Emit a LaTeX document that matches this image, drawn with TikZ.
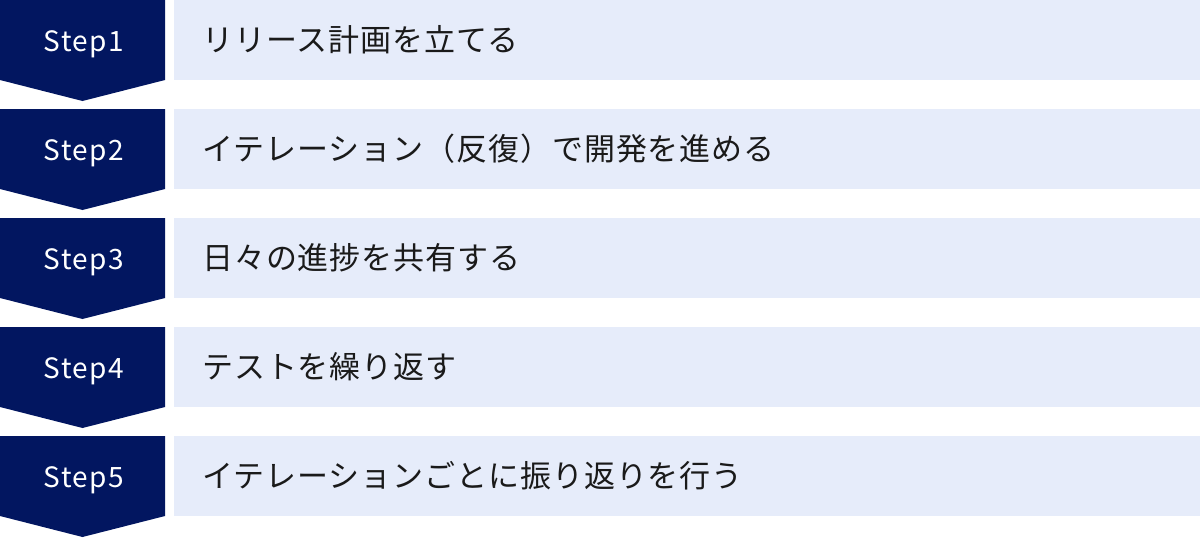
\documentclass[tikz,border=0pt]{standalone}
\usepackage{fontspec}
\setmainfont{Noto Sans CJK JP}
\newfontfamily\stepfont[LetterSpace=5]{Noto Sans CJK JP}
\newfontfamily\taskfont[LetterSpace=3]{Noto Sans CJK JP}
\usepackage{tikz}
\usetikzlibrary{positioning}

\definecolor{stepnavy}{RGB}{2,22,96}
\definecolor{barblue}{RGB}{230,236,250}
\definecolor{textdark}{RGB}{26,26,26}

\begin{document}
\begin{tikzpicture}[x=1pt,y=-1pt,
    bar/.style={draw=none,fill=barblue,minimum width=1026pt,minimum height=80pt,inner sep=0pt},
    steplabel/.style={text=white,anchor=base,inner sep=0pt,font=\stepfont\fontsize{28}{28}\selectfont},
    task/.style={text=textdark,anchor=west,inner sep=0pt,font=\taskfont\fontsize{31}{31}\selectfont}]

  \useasboundingbox (0,0) rectangle (1200,538);

  % Step arrows (navy, pointing down)
  \fill[stepnavy] (0,0) -- (165,0) -- (165,80) -- (82.5,101) -- (0,80) -- cycle;
  \fill[stepnavy] (0,109) -- (165,109) -- (165,189) -- (82.5,210) -- (0,189) -- cycle;
  \fill[stepnavy] (0,218) -- (165,218) -- (165,298) -- (82.5,319) -- (0,298) -- cycle;
  \fill[stepnavy] (0,327) -- (165,327) -- (165,407) -- (82.5,428) -- (0,407) -- cycle;
  \fill[stepnavy] (0,436) -- (165,436) -- (165,516) -- (82.5,537) -- (0,516) -- cycle;

  % Step labels (on the baseline)
  \node[steplabel] (s1) at (84,51.5) {Step1};
  \node[steplabel] (s2) at (84,160.5) {Step2};
  \node[steplabel] (s3) at (84,269.5) {Step3};
  \node[steplabel] (s4) at (84,378.5) {Step4};
  \node[steplabel] (s5) at (84,487.5) {Step5};

  % Bars behind the tasks
  \node[bar] (b1) at (687,40) {};
  \node[bar] (b2) at (687,149) {};
  \node[bar] (b3) at (687,258) {};
  \node[bar] (b4) at (687,367) {};
  \node[bar] (b5) at (687,476) {};

  % Tasks
  \node[task] (t1) at (202,40) {リリース計画を立てる};
  \node[task] (t2) at (202,149) {イテレーション（反復）で開発を進める};
  \node[task] (t3) at (202,258) {日々の進捗を共有する};
  \node[task] (t4) at (202,367) {テストを繰り返す};
  \node[task] (t5) at (202,476) {イテレーションごとに振り返りを行う};

\end{tikzpicture}
\end{document}
